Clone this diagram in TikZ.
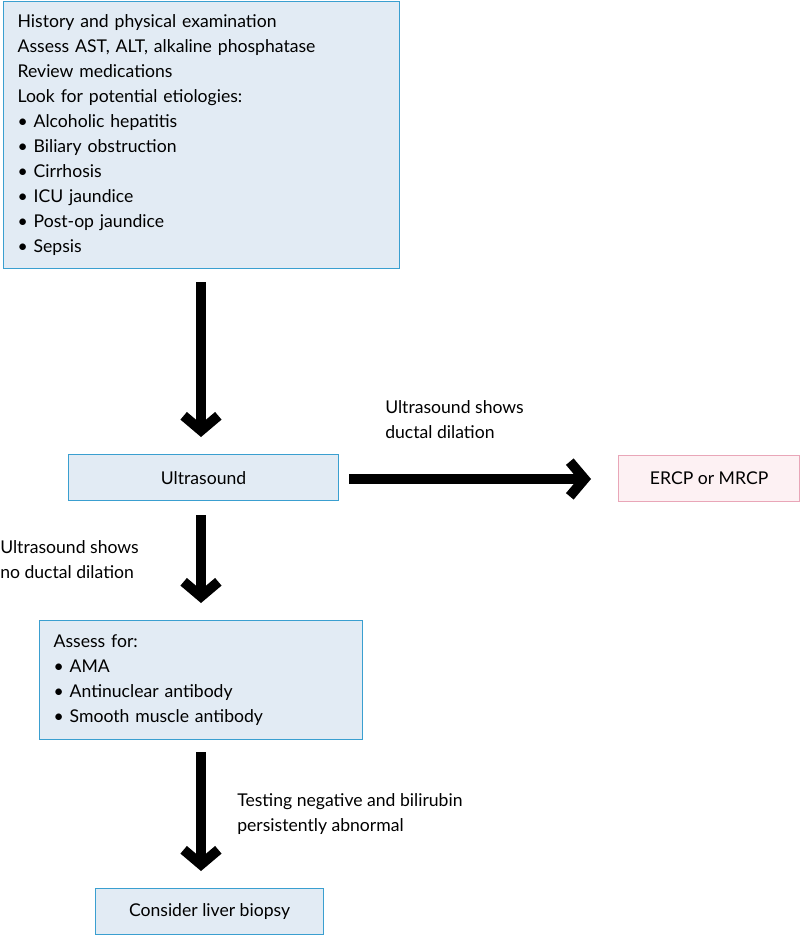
\documentclass[tikz,border=0pt]{standalone}
\usepackage{fontspec}
\setmainfont{Lato}
\usetikzlibrary{arrows.meta}
\definecolor{bfill}{HTML}{E2EBF4}
\definecolor{bline}{HTML}{3A9FD0}
\definecolor{pfill}{HTML}{FDF1F3}
\definecolor{pline}{HTML}{E9A6B8}
\begin{document}
\begin{tikzpicture}[x=0.75pt,y=-0.75pt,
  every node/.style={font=\fontsize{13.2pt}{18.75pt}\selectfont},
  box/.style={draw=bline,fill=bfill,line width=0.9pt,anchor=north west,inner xsep=10.5pt,inner ysep=0pt},
  pbox/.style={box,draw=pline,fill=pfill},
  lab/.style={anchor=north west,align=left,inner sep=0pt},
  arr/.style={line width=7.5pt,-{Straight Barb[length=11pt,width=26pt,line width=7.5pt]}}]
\useasboundingbox (0,0) rectangle (800,935);
\node[box,minimum width=297pt,minimum height=200pt,text width=276pt,align=left] (top) at (3,1)
 {History and physical examination\\Assess AST, ALT, alkaline phosphatase\\Review medications\\Look for potential etiologies:\\
 \textbullet\ Alcoholic hepatitis\\\textbullet\ Biliary obstruction\\\textbullet\ Cirrhosis\\\textbullet\ ICU jaundice\\\textbullet\ Post-op jaundice\\\textbullet\ Sepsis};
\node[box,minimum width=202.5pt,minimum height=34.5pt] (us) at (68,454) {Ultrasound};
\node[pbox,minimum width=135.75pt,minimum height=34.5pt] (ercp) at (618,455) {ERCP or MRCP};
\node[box,minimum width=242pt,minimum height=89pt,text width=221pt,align=left] (af) at (39,620)
 {Assess for:\\\textbullet\ AMA\\\textbullet\ Antinuclear antibody\\\textbullet\ Smooth muscle antibody};
\node[box,minimum width=171pt,minimum height=34.5pt] (lb) at (95,888) {Consider liver biopsy};
\coordinate (a1s) at (201,282); \coordinate (a1e) at (201,437);
\coordinate (a2s) at (349,479); \coordinate (a2e) at (591,479);
\coordinate (a3s) at (201,515); \coordinate (a3e) at (201,603);
\coordinate (a4s) at (201,752); \coordinate (a4e) at (201,871);
\draw[arr] (a1s) -- (a1e);
\draw[arr] (a2s) -- (a2e);
\draw[arr] (a3s) -- (a3e);
\draw[arr] (a4s) -- (a4e);
\node[lab] (l1) at (385,400) {Ultrasound shows\\ductal dilation};
\node[lab] (l2) at (0,540) {Ultrasound shows\\no ductal dilation};
\node[lab] (l3) at (237,793) {Testing negative and bilirubin\\persistently abnormal};
\end{tikzpicture}
\end{document}
